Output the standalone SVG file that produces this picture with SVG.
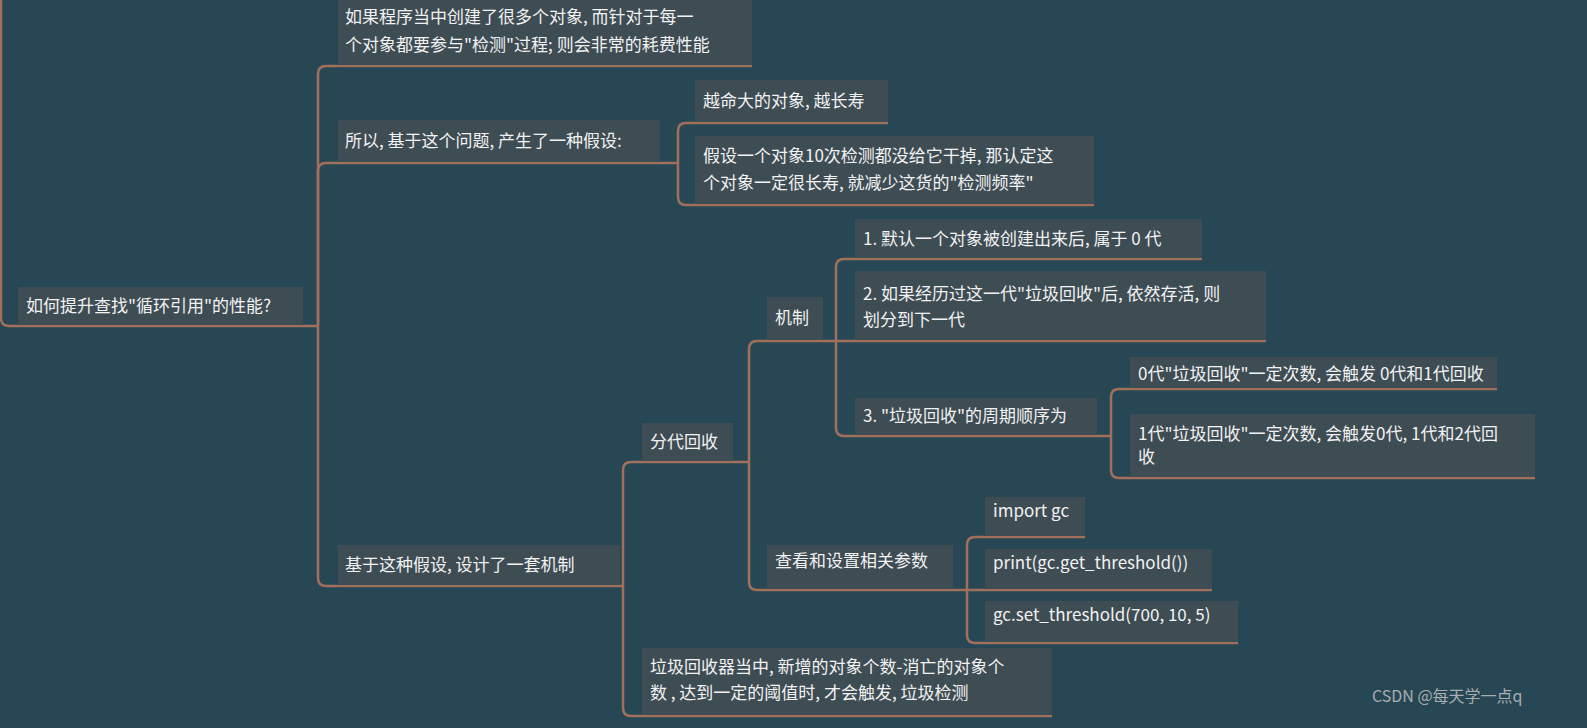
<svg xmlns="http://www.w3.org/2000/svg" width="1587" height="728" viewBox="0 0 1587 728">
<style>
.b{fill:#3e4c54}
.t{font-family:"Noto Sans CJK SC","Noto Sans",sans-serif;font-size:17px;fill:#f2f2f2}
.c{fill:none;stroke:#a0705c;stroke-width:2.5}
</style>
<rect width="1587" height="728" fill="#284754"/>
<g id="connectors">
<path class="c" d="M1 0 V318 Q1 326 9 326 H318"/>
<path class="c" d="M318 326 V74 Q318 66 326 66 H752"/>
<path class="c" d="M318 326 V171 Q318 163 326 163 H678"/>
<path class="c" d="M318 326 V578 Q318 586 326 586 H623"/>
<path class="c" d="M678 163 V131 Q678 123 686 123 H888"/>
<path class="c" d="M678 163 V197 Q678 205 686 205 H1094"/>
<path class="c" d="M623 586 V470 Q623 462 631 462 H749"/>
<path class="c" d="M623 586 V708 Q623 716 631 716 H1052"/>
<path class="c" d="M749 462 V349 Q749 341 757 341 H836"/>
<path class="c" d="M749 462 V582 Q749 590 757 590 H967"/>
<path class="c" d="M836 341 V267 Q836 259 844 259 H1202"/>
<path class="c" d="M836 341 H1266"/>
<path class="c" d="M836 341 V428 Q836 436 844 436 H1111"/>
<path class="c" d="M1111 436 V397 Q1111 389 1119 389 H1497"/>
<path class="c" d="M1111 436 V470 Q1111 478 1119 478 H1535"/>
<path class="c" d="M967 590 V545 Q967 537 975 537 H1085"/>
<path class="c" d="M967 590 H1212"/>
<path class="c" d="M967 590 V635 Q967 643 975 643 H1238"/>
</g>
<g id="root"><rect class="b" x="18" y="287" width="285" height="38"/><text class="t" x="26" y="312">如何提升查找"循环引用"的性能?</text></g>
<g id="n1"><rect class="b" x="338" y="0" width="414" height="65"/><text class="t" x="345" y="23">如果程序当中创建了很多个对象, 而针对于每一</text><text class="t" x="345" y="51">个对象都要参与"检测"过程; 则会非常的耗费性能</text></g>
<g id="n2"><rect class="b" x="338" y="120" width="322" height="42"/><text class="t" x="345" y="147">所以, 基于这个问题, 产生了一种假设:</text></g>
<g id="n21"><rect class="b" x="695" y="80" width="193" height="42"/><text class="t" x="703" y="107">越命大的对象, 越长寿</text></g>
<g id="n22"><rect class="b" x="695" y="136" width="399" height="68"/><text class="t" x="703" y="162">假设一个对象10次检测都没给它干掉, 那认定这</text><text class="t" x="703" y="189">个对象一定很长寿, 就减少这货的"检测频率"</text></g>
<g id="n3"><rect class="b" x="338" y="545" width="282" height="40"/><text class="t" x="345" y="571">基于这种假设, 设计了一套机制</text></g>
<g id="n31"><rect class="b" x="642" y="423" width="91" height="38"/><text class="t" x="650" y="448">分代回收</text></g>
<g id="n32"><rect class="b" x="642" y="648" width="410" height="67"/><text class="t" x="650" y="673">垃圾回收器当中, 新增的对象个数-消亡的对象个</text><text class="t" x="650" y="699">数 , 达到一定的阈值时, 才会触发, 垃圾检测</text></g>
<g id="n311"><rect class="b" x="767" y="297" width="56" height="43"/><text class="t" x="775" y="324">机制</text></g>
<g id="n312"><rect class="b" x="767" y="545" width="186" height="44"/><text class="t" x="775" y="567">查看和设置相关参数</text></g>
<g id="m1"><rect class="b" x="855" y="219" width="347" height="39"/><text class="t" x="863" y="245">1. 默认一个对象被创建出来后, 属于 0 代</text></g>
<g id="m2"><rect class="b" x="855" y="271" width="411" height="69"/><text class="t" x="863" y="300">2. 如果经历过这一代"垃圾回收"后, 依然存活, 则</text><text class="t" x="863" y="326">划分到下一代</text></g>
<g id="m3"><rect class="b" x="855" y="398" width="242" height="37"/><text class="t" x="863" y="422">3. "垃圾回收"的周期顺序为</text></g>
<g id="m31"><rect class="b" x="1130" y="357" width="367" height="31"/><text class="t" x="1138" y="380">0代"垃圾回收"一定次数, 会触发 0代和1代回收</text></g>
<g id="m32"><rect class="b" x="1130" y="414" width="405" height="63"/><text class="t" x="1138" y="440">1代"垃圾回收"一定次数, 会触发0代, 1代和2代回</text><text class="t" x="1138" y="463">收</text></g>
<g id="p1"><rect class="b" x="985" y="497" width="100" height="39"/><text class="t" x="993" y="517">import gc</text></g>
<g id="p2"><rect class="b" x="985" y="549" width="227" height="40"/><text class="t" x="993" y="569">print(gc.get_threshold())</text></g>
<g id="p3"><rect class="b" x="985" y="601" width="253" height="41"/><text class="t" x="993" y="621">gc.set_threshold(700, 10, 5)</text></g>
<text x="1372" y="702" style="font-family:'Noto Sans CJK SC','Noto Sans',sans-serif;font-size:16px;fill:#a8aeb2">CSDN @每天学一点q</text>
</svg>
